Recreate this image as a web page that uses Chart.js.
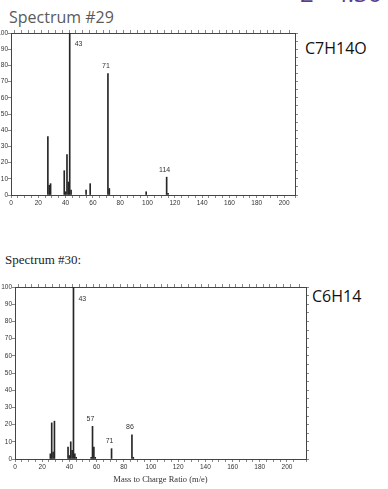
<!DOCTYPE html>
<html>
<head>
<meta charset="utf-8">
<script src="https://cdn.jsdelivr.net/npm/chart.js@4/dist/chart.umd.min.js"></script>
<style>
  body { margin: 0; width: 388px; height: 489px; background: #fff; position: relative; overflow: hidden; }
  .txt { position: absolute; white-space: nowrap; }
  #c29 { position: absolute; left: 0; top: 28px; }
  #c30 { position: absolute; left: 0; top: 280px; }
</style>
</head>
<body>
<div class="txt" style="left:300px;top:-24px;font:24px 'Open Sans';color:#5b3f8c;">2 - 4.36</div>
<div class="txt" style="left:9px;top:6px;font:16px 'Open Sans';color:#5a5a5a;">Spectrum #29</div>
<div class="txt" style="left:305px;top:37px;font:16px 'Open Sans';color:#111;">C7H14O</div>
<div class="txt" style="left:5px;top:252px;font:13px 'Liberation Serif';color:#222;">Spectrum #30:</div>
<div class="txt" style="left:312px;top:285px;font:16px 'Open Sans';color:#111;">C6H14</div>
<canvas id="c29" width="300" height="184"></canvas>
<canvas id="c30" width="312" height="209"></canvas>
<script>
// Spectrum #29 (C7H14O)
const masses29 = [27, 28, 29, 39, 40, 41, 42, 43, 44, 55, 58, 71, 72, 99, 114, 115];
const intens29 = [36, 6, 7, 15, 2, 25, 8, 100, 3, 3, 7, 75, 4, 2, 11, 1];
const peakLabels29 = [43, 71, 114];

// Spectrum #30 (C6H14)
const masses30 = [26, 27, 28, 29, 39, 40, 41, 42, 43, 44, 45, 56, 57, 58, 59, 71, 86, 87];
const intens30 = [3, 21, 4, 22, 7, 2, 10, 5, 100, 3, 1, 1, 19, 7, 1, 6, 14, 1];
const peakLabels30 = [43, 57, 71, 86];

const xTickLabels = [0, 20, 40, 60, 80, 100, 120, 140, 160, 180, 200];
const yTickLabels = [0, 10, 20, 30, 40, 50, 60, 70, 80, 90, 100];

const peakLabelPlugin = {
  id: 'peakLabels',
  afterDatasetsDraw(chart, args, opts) {
    const ctx = chart.ctx;
    const xs = chart.scales.x, ys = chart.scales.y;
    ctx.save();
    ctx.fillStyle = '#333';
    ctx.font = '7px "Liberation Sans"';
    opts.peaks.forEach(m => {
      const i = opts.masses.indexOf(m);
      const v = opts.values[i];
      const px = xs.getPixelForValue(m);
      if (v >= 100) {
        ctx.textAlign = 'left';
        ctx.textBaseline = 'middle';
        ctx.fillText(String(m), px + 5, ys.getPixelForValue(93));
      } else {
        ctx.textAlign = 'center';
        ctx.textBaseline = 'bottom';
        ctx.fillText(String(m), px - 2, ys.getPixelForValue(v) - 4);
      }
    });
    ctx.restore();
  }
};

function makeSpectrum(id, masses, values, peaks, xMax, sizes, showTitle) {
  const tickFont = { family: 'Liberation Sans', size: 6.5 };
  const gridStyle = { drawOnChartArea: false, tickLength: 3, color: '#888', lineWidth: 1 };
  const borderStyle = { display: true, color: '#444', width: 1 };
  const fixW = w => (axis => { axis.width = w; });
  const fixH = h => (axis => { axis.height = h; });

  return new Chart(document.getElementById(id), {
    type: 'bar',
    data: {
      datasets: [{
        data: masses.map((m, i) => ({ x: m, y: values[i] })),
        backgroundColor: '#262626',
        barThickness: 1
      }]
    },
    options: {
      responsive: false,
      animation: false,
      layout: { padding: 0 },
      plugins: {
        legend: { display: false },
        tooltip: { enabled: false },
        peakLabels: { peaks, masses, values }
      },
      scales: {
        x: {
          type: 'linear', position: 'bottom', min: 0, max: xMax, offset: false,
          grid: { ...gridStyle, offset: false },
          border: borderStyle,
          ticks: {
            stepSize: 5, autoSkip: false, maxRotation: 0, padding: 1,
            color: '#333', font: tickFont,
            callback: v => xTickLabels.includes(v) ? String(v) : ''
          },
          title: {
            display: showTitle, text: 'Mass to Charge Ratio (m/e)',
            color: '#333', font: { family: 'Liberation Serif', size: 8.5 }, padding: { top: 2, bottom: 4 }
          },
          afterFit: fixH(sizes.bottom)
        },
        x2: {
          type: 'linear', position: 'top', min: 0, max: xMax, offset: false,
          grid: gridStyle, border: borderStyle,
          ticks: { stepSize: 5, autoSkip: false, display: false },
          afterFit: fixH(sizes.top)
        },
        y: {
          min: 0, max: 100, position: 'left',
          grid: gridStyle, border: borderStyle,
          ticks: {
            stepSize: 10, padding: 0, color: '#333', font: tickFont,
            callback: v => yTickLabels.includes(v) ? String(v) : ''
          },
          afterFit: fixW(sizes.left)
        },
        y2: {
          min: 0, max: 100, position: 'right',
          grid: gridStyle, border: borderStyle,
          ticks: { stepSize: 5, display: false },
          afterFit: fixW(sizes.right)
        }
      }
    },
    plugins: [peakLabelPlugin]
  });
}

makeSpectrum('c29', masses29, intens29, peakLabels29, 208, { left: 11, right: 5, top: 5, bottom: 17 }, false);
makeSpectrum('c30', masses30, intens30, peakLabels30, 214, { left: 15, right: 6, top: 7, bottom: 30 }, true);
</script>
</body>
</html>
